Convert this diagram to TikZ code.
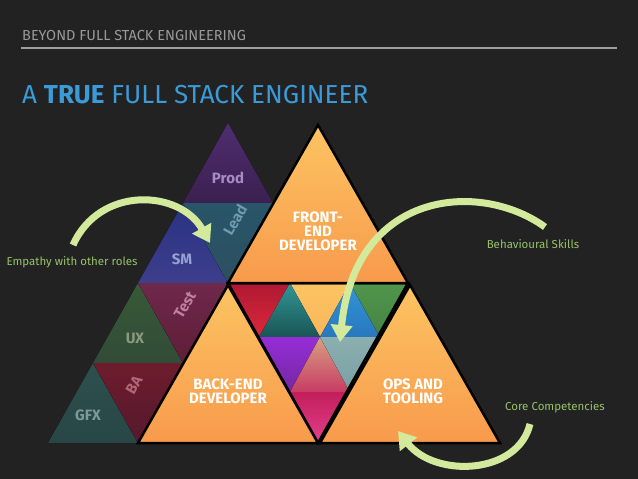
\documentclass[tikz,border=0pt]{standalone}
\usepackage{fontspec}
\setmainfont{Fira Sans}
\usetikzlibrary{arrows.meta}
\definecolor{bg}{HTML}{222222}
\definecolor{arr}{HTML}{D3EA9C}
\definecolor{lbl}{HTML}{97C26A}
\definecolor{ttl}{HTML}{3A9BD8}
\definecolor{orT}{HTML}{FCC462}
\definecolor{orB}{HTML}{F89A4C}
\begin{document}
\begin{tikzpicture}[x=1pt,y=-1pt,
  main/.style={top color=orT, bottom color=orB, draw=black, line width=2.5pt, line join=miter},
  wt/.style={text=white, font=\bfseries\fontsize{15}{14}\selectfont, align=center},
  role/.style={font=\bfseries\fontsize{15}{15}\selectfont, inner sep=1pt},
  green arrow/.style={draw=arr, line width=7pt, -{Triangle[width=21pt,length=17pt]}},
  note/.style={text=lbl, font=\fontsize{11.5}{12}\selectfont}]
\fill[bg] (0,0) rectangle (638,479);
\useasboundingbox (0,0) rectangle (638,479);
\node[anchor=base west, text=gray!80, font=\fontsize{14.5}{14}\selectfont, inner sep=0] (hdr) at (22,40) {BEYOND FULL STACK ENGINEERING};
\draw[gray!75, line width=1.2pt] (21,48) -- (617,48);
\node[anchor=base west, text=ttl, font=\fontsize{26}{26}\selectfont, inner sep=0] (title) at (22,103) {A \textbf{TRUE} FULL STACK ENGINEER};
% left stack
\fill[top color={rgb,255:red,80;green,45;blue,112}, bottom color={rgb,255:red,58;green,32;blue,80}] (228,123) -- (183,203) -- (273,203) -- cycle;
\fill[top color={rgb,255:red,40;green,50;blue,130}, bottom color={rgb,255:red,62;green,62;blue,140}] (183,203) -- (138,283) -- (228,283) -- cycle;
\fill[top color={rgb,255:red,40;green,85;blue,105}, bottom color={rgb,255:red,44;green,80;blue,96}] (183,203) -- (273,203) -- (228,283) -- cycle;
\fill[top color={rgb,255:red,55;green,90;blue,55}, bottom color={rgb,255:red,50;green,75;blue,55}] (138,283) -- (93,363) -- (183,363) -- cycle;
\fill[top color={rgb,255:red,110;green,40;blue,75}, bottom color={rgb,255:red,95;green,30;blue,55}] (138,283) -- (228,283) -- (183,363) -- cycle;
\fill[top color={rgb,255:red,45;green,80;blue,78}, bottom color={rgb,255:red,40;green,70;blue,70}] (93,363) -- (48,443) -- (138,443) -- cycle;
\fill[top color={rgb,255:red,110;green,28;blue,45}, bottom color={rgb,255:red,85;green,25;blue,45}] (93,363) -- (183,363) -- (138,443) -- cycle;
\node[role, text={rgb,255:red,168;green,139;blue,192}] (prod) at (228,178) {Prod};
\node[role, text={rgb,255:red,150;green,160;blue,210}] (sm) at (182,259) {SM};
\node[role, text={rgb,255:red,110;green,154;blue,170}, rotate=60] (lead) at (235,220) {Lead};
\node[role, text={rgb,255:red,138;green,154;blue,128}] (ux) at (135,338) {UX};
\node[role, text={rgb,255:red,192;green,128;blue,160}, rotate=60] (test) at (185,305) {Test};
\node[role, text={rgb,255:red,126;green,154;blue,152}] (gfx) at (88,415) {GFX};
\node[role, text={rgb,255:red,176;green,104;blue,120}, rotate=60] (ba) at (134,385) {BA};
% middle mosaic
\fill[top color=orT, bottom color=orB] (228,283) -- (408,283) -- (318,443) -- cycle;
\fill[top color={rgb,255:red,175;green,25;blue,50}, bottom color={rgb,255:red,220;green,40;blue,60}] (228,283) -- (290,283) -- (259,337) -- cycle;
\fill[top color={rgb,255:red,50;green,150;blue,150}, bottom color={rgb,255:red,25;green,85;blue,85}] (290,283) -- (259,337) -- (320,337) -- cycle;
\fill[top color={rgb,255:red,50;green,150;blue,215}, bottom color={rgb,255:red,40;green,120;blue,190}] (350,283) -- (320,337) -- (380,337) -- cycle;
\fill[top color={rgb,255:red,80;green,150;blue,75}, bottom color={rgb,255:red,70;green,130;blue,70}] (350,283) -- (408,283) -- (380,337) -- cycle;
\fill[top color={rgb,255:red,150;green,45;blue,215}, bottom color={rgb,255:red,115;green,40;blue,160}] (259,337) -- (320,337) -- (290,392) -- cycle;
\fill[top color={rgb,255:red,215;green,160;blue,130}, bottom color={rgb,255:red,200;green,60;blue,100}] (320,337) -- (290,392) -- (350,392) -- cycle;
\fill[top color={rgb,255:red,140;green,175;blue,175}, bottom color={rgb,255:red,120;green,160;blue,165}] (320,337) -- (380,337) -- (350,392) -- cycle;
\fill[top color={rgb,255:red,195;green,30;blue,90}, bottom color={rgb,255:red,225;green,65;blue,140}] (290,392) -- (350,392) -- (318,443) -- cycle;
\draw[black, line width=2.5pt] (228,283) -- (408,283) -- (318,443) -- cycle;
% main triangles
\draw[main] (318,125) -- (228,283) -- (408,283) -- cycle;
\draw[main] (228,285) -- (138,443) -- (318,443) -- cycle;
\draw[main] (410,285) -- (320,443) -- (500,443) -- cycle;
\node[wt] (fe) at (318,231) {FRONT-\\END\\DEVELOPER};
\node[wt] (be) at (228,391) {BACK-END\\DEVELOPER};
\node[wt] (ops) at (413,391) {OPS AND\\TOOLING};
% arrows and notes
\node[note] (emp) at (72,262) {Empathy with other roles};
\node[note] (beh) at (533,244) {Behavioural Skills};
\node[note] (core) at (555,407) {Core Competencies};
\coordinate (a1s) at (73,245); \coordinate (a1e) at (210,243);
\coordinate (a2s) at (545,227); \coordinate (a2e) at (340,342);
\coordinate (a3s) at (530,424); \coordinate (a3e) at (398,431);
\draw[green arrow] (a1s) .. controls (100,185) and (180,190) .. (a1e);
\draw[green arrow] (a2s) .. controls (480,180) and (355,190) .. (a2e);
\draw[green arrow] (a3s) .. controls (518,475) and (435,478) .. (a3e);
\end{tikzpicture}
\end{document}
